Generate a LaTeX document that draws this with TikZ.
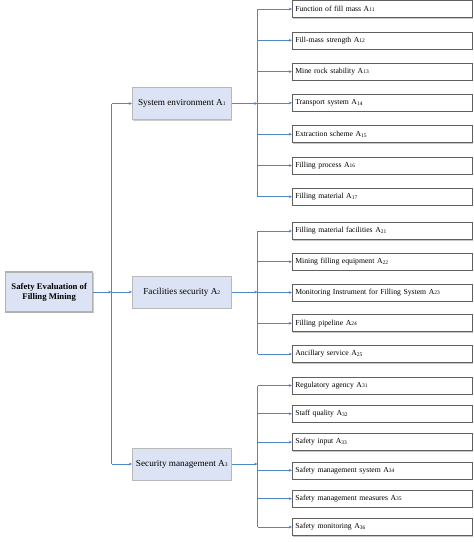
\documentclass[tikz,border=0pt]{standalone}
\usepackage{fontspec}
\setmainfont{Liberation Serif}
\usetikzlibrary{arrows.meta,shadows}
\newcommand\sbs[1]{\raisebox{-0.4pt}{\fontsize{5.5}{5.5}\selectfont #1}}
\definecolor{linkblue}{HTML}{4F86C6}
\definecolor{midfill}{HTML}{DCE3F4}
\tikzset{
  link/.style={color=linkblue,line width=0.8pt},
  arr/.style={link,-{Stealth[length=3.2pt,width=2.8pt]}},
  leaf/.style={draw=gray!75!black,fill=white,line width=0.6pt,
    minimum width=180pt,minimum height=17pt,text width=174pt,align=left,
    inner xsep=3pt,inner ysep=0pt,anchor=west,
    font=\fontsize{7.7}{9}\selectfont,
    drop shadow={shadow xshift=0.8pt,shadow yshift=-1pt,fill=gray!45,opacity=1}},
  mid/.style={draw=gray!55,fill=midfill,line width=0.6pt,
    minimum width=99pt,minimum height=32pt,inner sep=1pt,anchor=west,
    font=\fontsize{9.2}{10}\selectfont,
    drop shadow={shadow xshift=1pt,shadow yshift=-1pt,fill=gray!40,opacity=1}},
  rootbox/.style={draw=gray!60,fill=midfill,line width=1.4pt,
    minimum width=87pt,minimum height=40pt,inner sep=1pt,anchor=west,
    align=center,font=\fontsize{8.7}{10}\selectfont\bfseries,
    drop shadow={shadow xshift=1.2pt,shadow yshift=-1.2pt,fill=gray!40,opacity=1}}
}
\begin{document}
\begin{tikzpicture}[x=1pt,y=-1pt]
\useasboundingbox (0,0) rectangle (474,542);
% root
\node[rootbox] (root) at (5,292) {Safety Evaluation of\\Filling Mining};
% mid
\node[mid] (m1) at (132,103.5) {System environment A\sbs{1}};
\node[mid] (m2) at (132,292) {Facilities security A\sbs{2}};
\node[mid] (m3) at (132,464) {Security management A\sbs{3}};
% leaves group 1
\node[leaf] (a11) at (292,9) {Function of fill mass A\sbs{11}};
\node[leaf] (a12) at (292,40.3) {Fill-mass strength A\sbs{12}};
\node[leaf] (a13) at (292,71.6) {Mine rock stability A\sbs{13}};
\node[leaf] (a14) at (292,102.9) {Transport system A\sbs{14}};
\node[leaf] (a15) at (292,134.2) {Extraction scheme A\sbs{15}};
\node[leaf] (a16) at (292,165.5) {Filling process A\sbs{16}};
\node[leaf] (a17) at (292,196.8) {Filling material A\sbs{17}};
% group 2
\node[leaf] (a21) at (292,231) {Filling material facilities A\sbs{21}};
\node[leaf] (a22) at (292,261.75) {Mining filling equipment A\sbs{22}};
\node[leaf] (a23) at (292,292.5) {Monitoring Instrument for Filling System A\sbs{23}};
\node[leaf] (a24) at (292,323.25) {Filling pipeline A\sbs{24}};
\node[leaf] (a25) at (292,354) {Ancillary service A\sbs{25}};
% group 3
\node[leaf] (a31) at (292,385.5) {Regulatory agency A\sbs{31}};
\node[leaf] (a32) at (292,413.8) {Staff quality A\sbs{32}};
\node[leaf] (a33) at (292,442.1) {Safety input A\sbs{33}};
\node[leaf] (a34) at (292,470.4) {Safety management system A\sbs{34}};
\node[leaf] (a35) at (292,498.7) {Safety management measures A\sbs{35}};
\node[leaf] (a36) at (292,527) {Safety monitoring A\sbs{36}};
% junctions
\coordinate (j0) at (111.5,292);
\coordinate (j0t) at (111.5,103.5);
\coordinate (j0b) at (111.5,464);
\coordinate (g1) at (257.5,103.5);
\coordinate (g2) at (257.5,292);
\coordinate (g3) at (257.5,464);
% root to mid
\draw[arr] (root.east) -- (j0);
\draw[link] (j0t) -- (j0b);
\draw[arr] (j0t) -- (m1.west);
\draw[arr] (j0) -- (m2.west);
\draw[arr] (j0b) -- (m3.west);
% mid to groups
\draw[arr] (m1.east) -- (g1);
\draw[arr] (m2.east) -- (g2);
\draw[arr] (m3.east) -- (g3);
\draw[link] (a11.west -| g1) -- (a17.west -| g1);
\draw[link] (a21.west -| g2) -- (a25.west -| g2);
\draw[link] (a31.west -| g3) -- (a36.west -| g3);
\foreach \n in {a11,a12,a13,a14,a15,a16,a17}{\draw[arr] (\n.west -| g1) -- (\n.west);}
\foreach \n in {a21,a22,a23,a24,a25}{\draw[arr] (\n.west -| g2) -- (\n.west);}
\foreach \n in {a31,a32,a33,a34,a35,a36}{\draw[arr] (\n.west -| g3) -- (\n.west);}
\end{tikzpicture}
\end{document}
